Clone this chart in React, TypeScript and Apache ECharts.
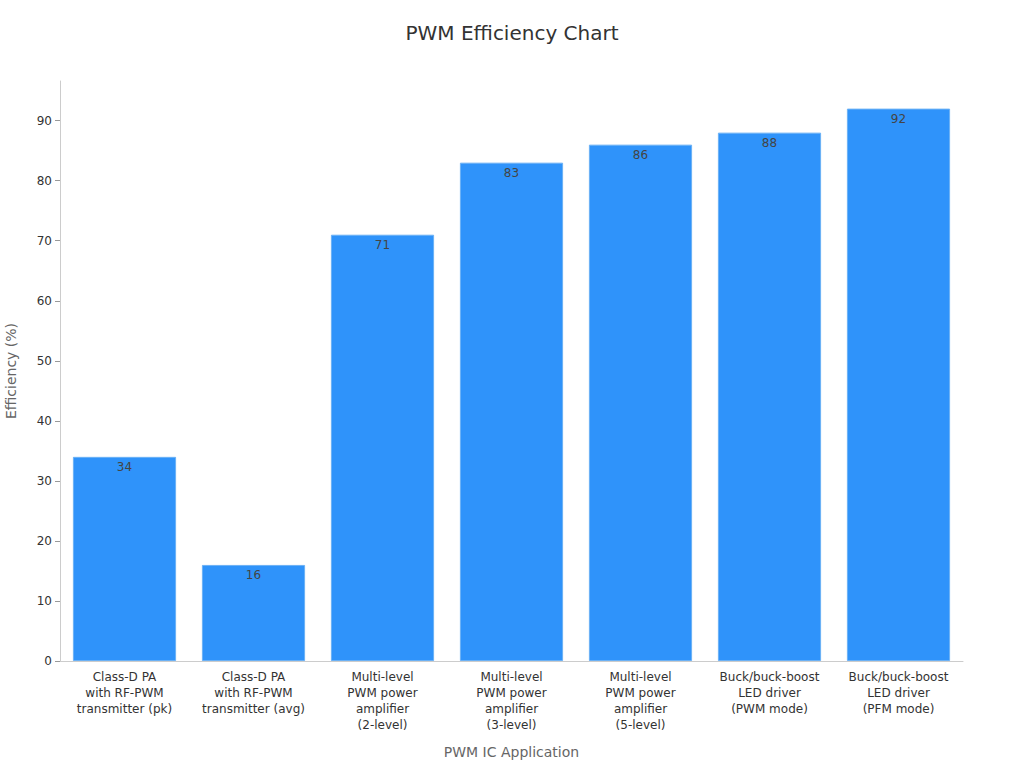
import React, { useEffect, useRef } from "react";
import * as echarts from "echarts";

const categories = [
  "Class-D PA\nwith RF-PWM\ntransmitter (pk)",
  "Class-D PA\nwith RF-PWM\ntransmitter (avg)",
  "Multi-level\nPWM power\namplifier\n(2-level)",
  "Multi-level\nPWM power\namplifier\n(3-level)",
  "Multi-level\nPWM power\namplifier\n(5-level)",
  "Buck/buck-boost\nLED driver\n(PWM mode)",
  "Buck/buck-boost\nLED driver\n(PFM mode)",
];
const efficiency = [34, 16, 71, 83, 86, 88, 92];
const yTicks = [0, 10, 20, 30, 40, 50, 60, 70, 80, 90];

export default function App() {
  const ref = useRef<HTMLDivElement>(null);
  useEffect(() => {
    if (!ref.current) return;
    const chart = echarts.init(ref.current, null, { renderer: "svg" });
    const font = "DejaVu Sans";
    chart.setOption({
      animation: false,
      textStyle: { fontFamily: font },
      title: {
        text: "PWM Efficiency Chart",
        left: "center",
        top: 18,
        textStyle: { fontFamily: font, fontSize: 20, fontWeight: "normal", color: "#333" },
      },
      grid: { left: 60, right: 61, top: 81, bottom: 107, containLabel: false, outerBoundsMode: "none" },
      xAxis: {
        type: "category",
        data: categories,
        name: "PWM IC Application",
        nameLocation: "middle",
        nameGap: 84,
        nameTextStyle: { fontFamily: font, fontSize: 14, color: "#666" },
        axisLine: { lineStyle: { color: "#ccc" } },
        axisTick: { alignWithLabel: true, lineStyle: { color: "#333" }, length: 5 },
        axisLabel: { fontFamily: font, fontSize: 12, color: "#333", lineHeight: 16, margin: 8, interval: 0 },
      },
      yAxis: {
        type: "value",
        min: 0,
        max: 96.6,
        interval: 10,
        name: "Efficiency (%)",
        nameLocation: "middle",
        nameGap: 42,
        nameTextStyle: { fontFamily: font, fontSize: 14, color: "#666" },
        axisLine: { show: true, lineStyle: { color: "#ccc" } },
        axisTick: { show: true, lineStyle: { color: "#999" }, length: 5, customValues: yTicks },
        axisLabel: {
          fontFamily: font,
          fontSize: 12,
          color: "#333",
          margin: 8,
          customValues: yTicks,
        },
        splitLine: { show: false },
      },
      series: [
        {
          type: "bar",
          data: efficiency,
          barCategoryGap: "20%",
          itemStyle: { color: "#2F93FA", borderColor: "#6BB1F5", borderWidth: 1 },
          label: {
            show: true,
            position: "insideTop",
            distance: 4,
            fontFamily: font,
            fontSize: 12,
            color: "#444",
          },
        },
      ],
    });
    return () => chart.dispose();
  }, []);
  return (
    <div
      ref={ref}
      style={{ position: "fixed", left: 0, top: 0, width: 1024, height: 768, background: "#fff" }}
    />
  );
}
